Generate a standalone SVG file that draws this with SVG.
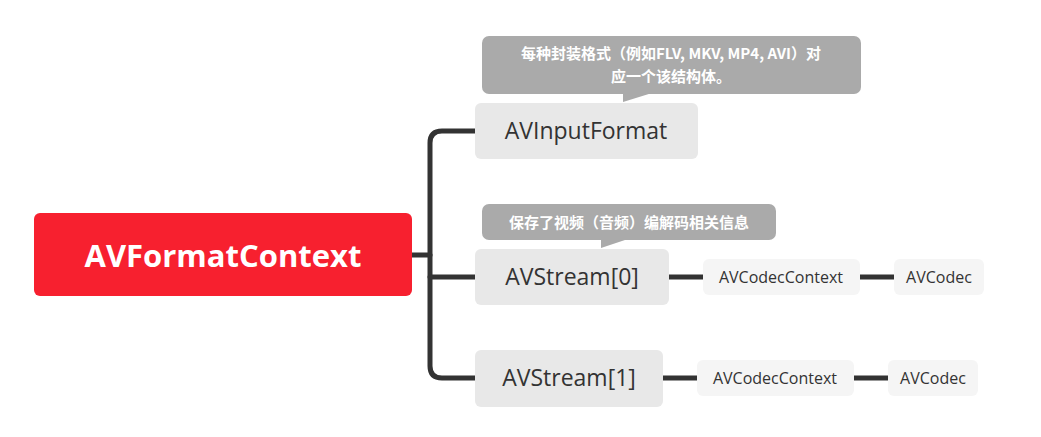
<svg xmlns="http://www.w3.org/2000/svg" width="1041" height="437" viewBox="0 0 1041 437">
<style>
.n{fill:#e8e8e8}
.s{fill:#f5f5f5}
.c{fill:#aaaaaa}
.t{font-family:"Open Sans","Noto Sans",sans-serif;fill:#333;text-anchor:middle}
.ct{font-family:"Noto Sans CJK SC",sans-serif;font-weight:bold;fill:#fff;font-size:15px;text-anchor:middle}
.l{stroke:#333;stroke-width:5;fill:none;stroke-linecap:round}
</style>
<rect width="1041" height="437" fill="#fff"/>
<g id="connectors">
<path class="l" d="M412 255 H430"/>
<path class="l" d="M475 131 H442 Q430 131 430 143 V366 Q430 378 442 378 H475"/>
<path class="l" d="M430 277 H475"/>
<path class="l" d="M669 277 H703"/>
<path class="l" d="M860 277 H894"/>
<path class="l" d="M663 378 H697"/>
<path class="l" d="M854 378 H888"/>
</g>
<g id="root"><rect x="34" y="213" width="378" height="83" rx="6" fill="#f7202f"/>
<text x="223" y="267" font-family="Open Sans,sans-serif" font-weight="bold" font-size="31" fill="#fff" text-anchor="middle">AVFormatContext</text></g>
<g id="callout1"><rect x="482" y="36" width="379" height="58" rx="7" class="c"/><path d="M623 93 L623 102 L652 93Z" class="c"/>
<text class="ct" x="671" y="59">每种封装格式（例如FLV, MKV, MP4, AVI）对</text>
<text class="ct" x="671" y="82">应一个该结构体。</text></g>
<g id="n1"><rect class="n" x="475" y="103" width="223" height="56" rx="6"/><text class="t" x="586" y="139" font-size="23">AVInputFormat</text></g>
<g id="callout2"><rect x="482" y="204" width="294" height="36" rx="7" class="c"/><path d="M601 239 L601 248 L628 239Z" class="c"/>
<text class="ct" x="629" y="228">保存了视频（音频）编解码相关信息</text></g>
<g id="n2"><rect class="n" x="475" y="249" width="194" height="56" rx="6"/><text class="t" x="572" y="285" font-size="23">AVStream[0]</text></g>
<g id="n3"><rect class="n" x="475" y="350" width="188" height="57" rx="6"/><text class="t" x="569" y="386" font-size="23">AVStream[1]</text></g>
<g id="n4"><rect class="s" x="703" y="259" width="157" height="36" rx="6"/><text class="t" x="781" y="283" font-size="16">AVCodecContext</text></g>
<g id="n5"><rect class="s" x="894" y="259" width="90" height="36" rx="6"/><text class="t" x="939" y="283" font-size="16">AVCodec</text></g>
<g id="n6"><rect class="s" x="697" y="360" width="157" height="36" rx="6"/><text class="t" x="775" y="384" font-size="16">AVCodecContext</text></g>
<g id="n7"><rect class="s" x="888" y="360" width="90" height="36" rx="6"/><text class="t" x="933" y="384" font-size="16">AVCodec</text></g>
</svg>
